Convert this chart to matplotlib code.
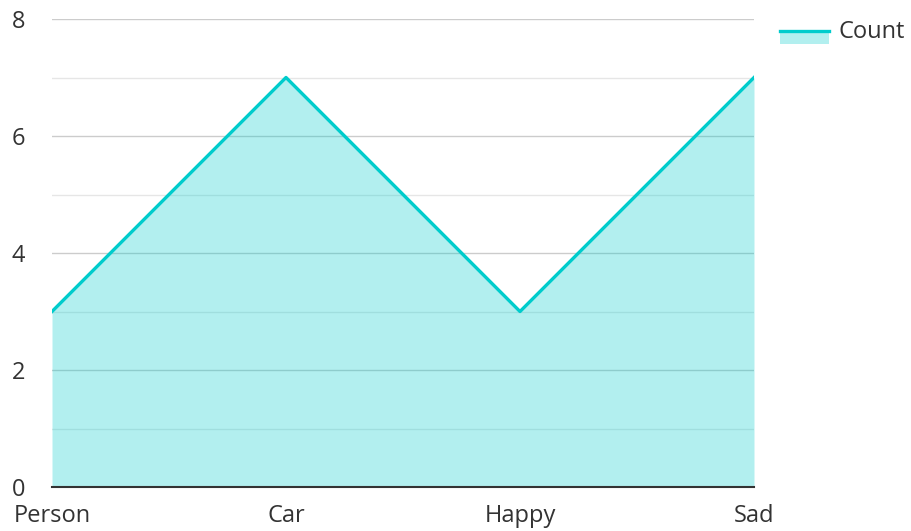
import matplotlib.pyplot as plt
from matplotlib.lines import Line2D
from matplotlib.patches import Rectangle
from matplotlib.legend_handler import HandlerBase

categories = ["Person", "Car", "Happy", "Sad"]
counts = [3, 7, 3, 7]
series_name = "Count"

plt.rcParams['font.family'] = ['Open Sans', 'DejaVu Sans']

line_color = '#00cccc'
fill_color = '#00cccc'
fill_alpha = 0.3


class AreaHandler(HandlerBase):
    # патч з лінією зверху, як у легенді оригіналу
    def create_artists(self, legend, orig_handle, xdescent, ydescent,
                       width, height, fontsize, trans):
        yc = -ydescent + height / 2 - 1
        rect = Rectangle((-xdescent, yc - 9), width, 9,
                         facecolor=fill_color, alpha=fill_alpha,
                         linewidth=0, transform=trans)
        ln = Line2D([-xdescent, -xdescent + width], [yc, yc],
                    color=line_color, linewidth=2.4, transform=trans)
        return [rect, ln]


fig = plt.figure(figsize=(9.12, 5.31), dpi=100)
ax = fig.add_axes([52 / 912, 1 - 487 / 531, (754 - 52) / 912, (487 - 19) / 531])

x = list(range(len(categories)))
ax.fill_between(x, counts, 0, color=fill_color, alpha=fill_alpha, linewidth=0, zorder=2)
ax.plot(x, counts, color=line_color, linewidth=2.4, zorder=3)

ax.set_xlim(0, len(categories) - 1)
ax.set_ylim(0, 8)
ax.set_xticks(x)
ax.set_xticklabels(categories)
ax.set_yticks([0, 2, 4, 6, 8])
ax.set_yticks([1, 3, 5, 7], minor=True)

ax.grid(axis='y', which='major', color='#cccccc', linewidth=1, zorder=0)
ax.grid(axis='y', which='minor', color='#e6e6e6', linewidth=1, zorder=0)
ax.set_axisbelow(True)

for s in ['top', 'right', 'left']:
    ax.spines[s].set_visible(False)
ax.spines['bottom'].set_color('#333333')
ax.spines['bottom'].set_linewidth(1.5)
ax.spines['bottom'].set_zorder(4)

ax.tick_params(axis='both', which='both', length=0, labelsize=17, colors='#333333')
ax.tick_params(axis='x', pad=12.5)
ax.tick_params(axis='y', pad=29)
for lab in ax.get_yticklabels():
    lab.set_horizontalalignment('left')

leg = fig.legend([Rectangle((0, 0), 1, 1)], [series_name], loc='upper left',
                 bbox_to_anchor=(780 / 912, 1 - 20 / 531), frameon=False,
                 borderpad=0, borderaxespad=0,
                 fontsize=17, handlelength=2.07, handleheight=0.75, handletextpad=0.42,
                 handler_map={Rectangle: AreaHandler()})
for t in leg.get_texts():
    t.set_color('#333333')

fig.savefig('out.png', dpi=100)
